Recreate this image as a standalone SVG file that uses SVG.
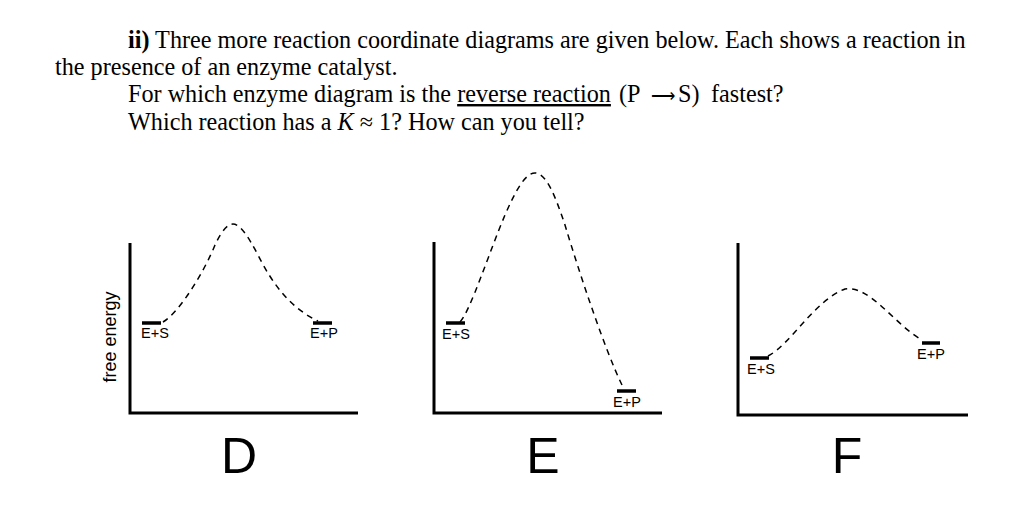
<svg xmlns="http://www.w3.org/2000/svg" width="1024" height="514" viewBox="0 0 1024 514">
<style>
.q{font-family:"Liberation Serif","Times New Roman",serif;font-size:24.2px;fill:#000}
.lab{font-family:"Liberation Sans",Arial,sans-serif;font-size:14.5px;fill:#000}
.yl{font-family:"Liberation Sans",Arial,sans-serif;font-size:18px;fill:#000;text-anchor:middle}
.big{font-family:"Liberation Sans",Arial,sans-serif;font-size:50px;fill:#000;text-anchor:middle}
.ax{fill:none;stroke:#000;stroke-width:3}
.bar{stroke:#000;stroke-width:3.5}
.cv{fill:none;stroke:#000;stroke-width:1.5;stroke-dasharray:6 5}
</style>
<rect width="1024" height="514" fill="#fff"/>
<g id="question">
<text class="q" x="128" y="48"><tspan font-weight="bold">ii)</tspan> Three more reaction coordinate diagrams are given below. Each shows a reaction in</text>
<text class="q" x="55" y="75">the presence of an enzyme catalyst.</text>
<text class="q" x="128" y="102">For which enzyme diagram is the <tspan text-decoration="underline">reverse reaction</tspan> <tspan x="619">(P</tspan><tspan x="651" font-size="17">⟶</tspan><tspan x="678">S)</tspan><tspan x="711">fastest?</tspan></text>
<text class="q" x="128" y="130">Which reaction has a <tspan font-style="italic">K</tspan> ≈ 1? How can you tell?</text>
</g>
<g id="diagramD">
<path class="ax" d="M130,243 V413 H358"/>
<text class="yl" x="116" y="337" transform="rotate(-90 116 337)">free energy</text>
<line class="bar" x1="142" y1="323" x2="161" y2="323"/>
<line class="bar" x1="313" y1="323" x2="332" y2="323"/>
<text class="lab" x="141" y="338">E+S</text>
<text class="lab" x="310" y="338">E+P</text>
<text class="big" x="239" y="473">D</text>
</g>
<g id="diagramE">
<path class="ax" d="M434,242 V413 H662"/>
<line class="bar" x1="446" y1="323" x2="465" y2="323"/>
<line class="bar" x1="617" y1="391" x2="636" y2="391"/>
<text class="lab" x="442" y="339">E+S</text>
<text class="lab" x="613" y="407">E+P</text>
<text class="big" x="543" y="473">E</text>
</g>
<g id="diagramF">
<path class="ax" d="M738,243 V415 H968"/>
<line class="bar" x1="750" y1="358" x2="769" y2="358"/>
<line class="bar" x1="922" y1="343" x2="940" y2="343"/>
<text class="lab" x="747" y="374">E+S</text>
<text class="lab" x="917" y="359">E+P</text>
<text class="big" x="847" y="473">F</text>
</g>
<g id="connectors">
<path class="cv" d="M163,322 C180,312 205,270 215,245 C222,230 228,224 233,224 C240,224 248,236 258,255 C272,283 290,308 318,321"/>
<path class="cv" d="M460,322 C470,312 490,250 505,215 C515,192 525,173 535,173 C546,173 555,195 565,225 C580,275 605,350 622,385"/>
<path class="cv" d="M768,356 C790,345 815,300 845,289 C870,285 895,325 922,340"/>
</g>
</svg>
